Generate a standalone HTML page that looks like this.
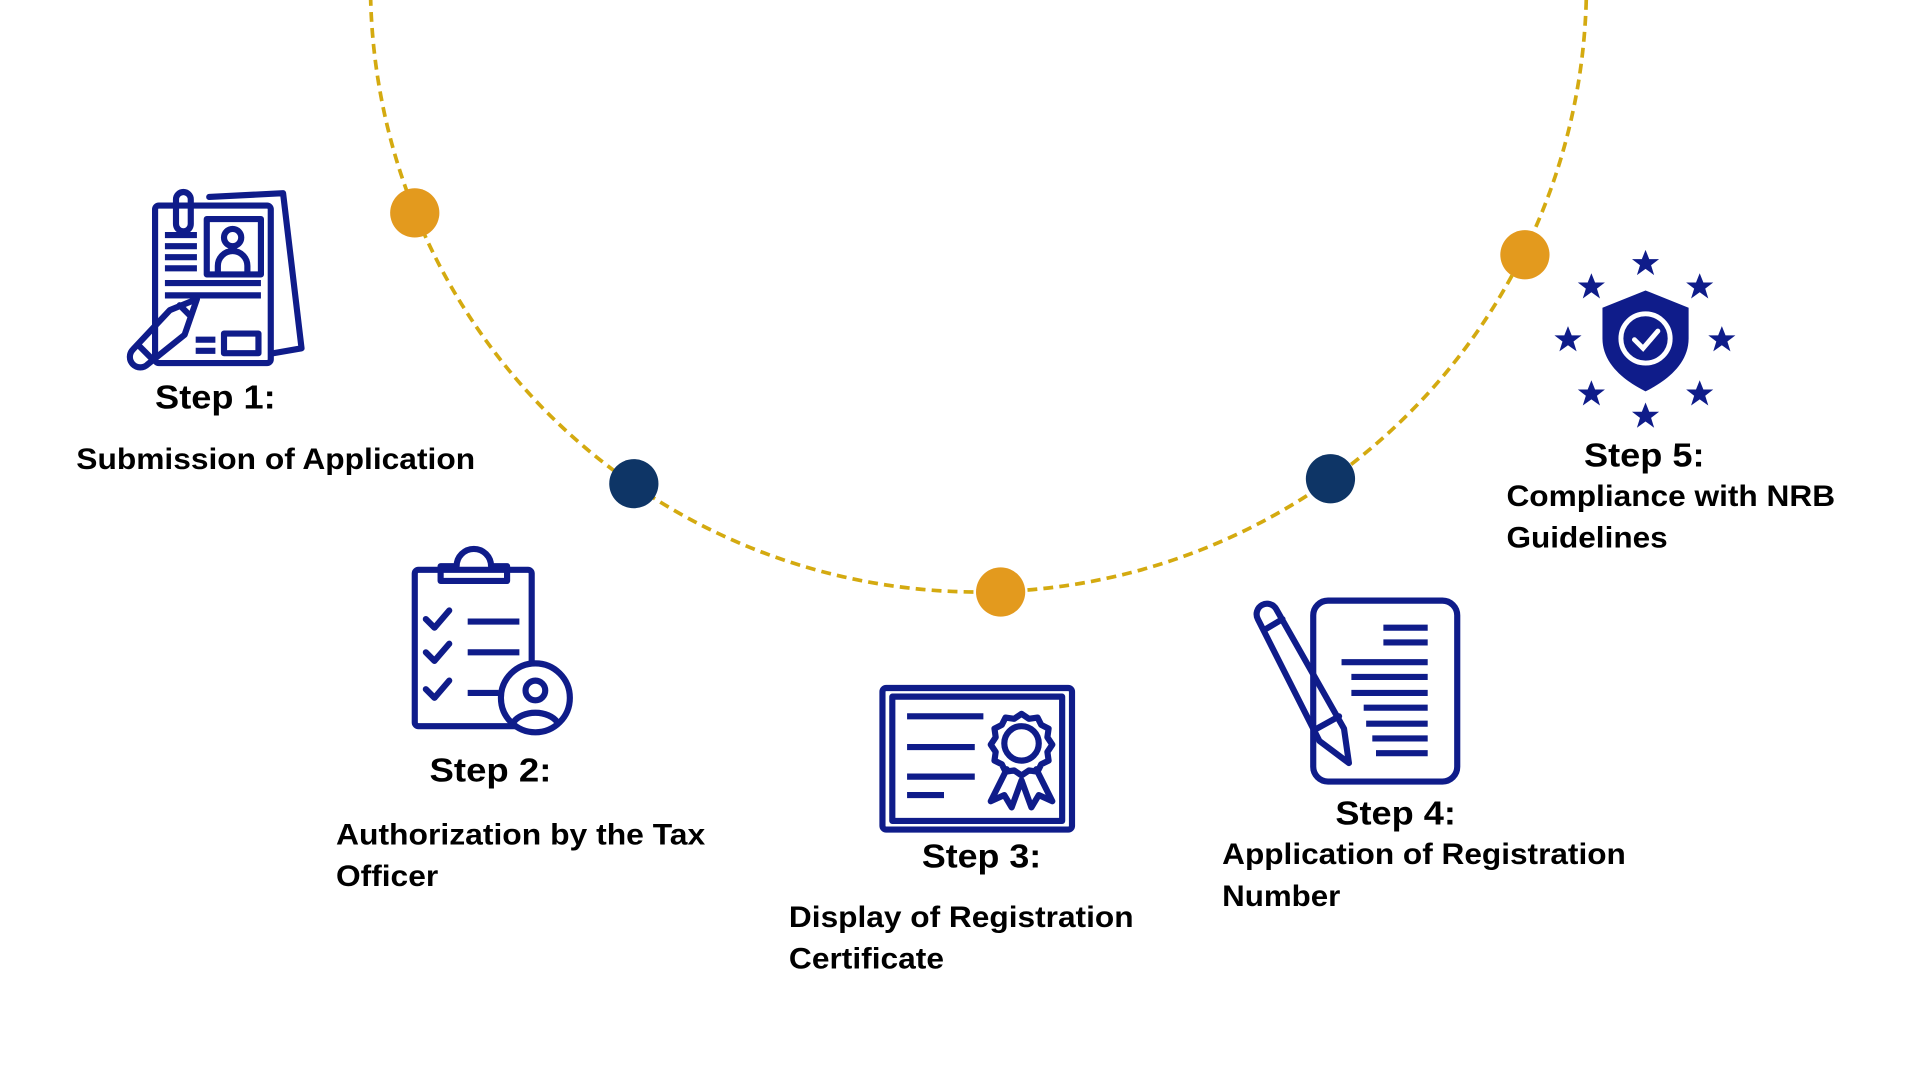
<!DOCTYPE html>
<html><head><meta charset="utf-8"><style>
html,body{margin:0;padding:0;background:#fff;}
svg{display:block}
text{font-family:"Liberation Sans",Arial,sans-serif;font-weight:bold;fill:#000}
</style></head><body>
<svg width="1920" height="1080" viewBox="0 0 1560 877.5" xmlns="http://www.w3.org/2000/svg">
<defs>
<path id="st" d="M0 -11 L3 -3.5 L11 -3.5 L4.5 1.5 L7 9.5 L0 4.5 L-7 9.5 L-4.5 1.5 L-11 -3.5 L-3 -3.5 Z"/>
</defs>
<rect width="1560" height="877.5" fill="#fff"/>
<circle cx="795" cy="-13" r="494" fill="none" stroke="#d4aa10" stroke-width="3" stroke-dasharray="8 5"/>
<circle cx="337" cy="173" r="20" fill="#e39a1e"/>
<circle cx="813" cy="481" r="20" fill="#e39a1e"/>
<circle cx="1239" cy="207" r="20" fill="#e39a1e"/>
<circle cx="515" cy="393" r="20" fill="#0e3566"/>
<circle cx="1081" cy="389" r="20" fill="#0e3566"/>

<g fill="none" stroke="#0f1c8a" stroke-width="5" stroke-linejoin="round" stroke-linecap="round">
<path d="M170 160 L230 157 L245 283 L222 287"/>
<rect x="126" y="167" width="94" height="128" rx="3"/>
<path d="M143 182 V162 a6 6 0 0 1 12 0 V182 a4 4 0 0 1 -12 0"/>
<rect x="168" y="178" width="44" height="45"/>
<circle cx="189" cy="193" r="7"/>
<path d="M177 221 v-5 a12 12 0 0 1 24 0 v5"/>
<path d="M134 191h26M134 200h26M134 209h26M134 218h26M134 230h78M134 240h78" stroke-linecap="butt"/>
<path d="M159 285h16M159 276h16" stroke-linecap="butt"/>
<rect x="182" y="271" width="28" height="16"/>
<path d="M160 243 L150 272 L120 296 a8 8 0 0 1 -12 -12 L138 252 Z M112 280 L123 291 M146 248 L155 257"/>
<rect x="337" y="463" width="95" height="127" rx="3"/>
<path d="M358 472 v-12 h13 a14 14 0 0 1 28 0 h13 v12 z"/>
<path d="M346 503l7 7 12-14M346 530l7 7 12-14M346 560l7 7 12-14"/>
<path d="M380 505h42M380 530h42M380 563h25" stroke-linecap="butt"/>
<circle cx="435" cy="567" r="28" fill="#fff"/>
<circle cx="435" cy="561" r="8"/>
<path d="M417 587 a20 14 0 0 1 36 0"/>
<rect x="717" y="559" width="154" height="115" rx="3"/>
<rect x="725" y="566" width="138" height="101"/>
<path d="M737 582h62M737 607h55M737 631h55M737 646h30" stroke-linecap="butt"/>
<circle cx="830" cy="604" r="14"/>
<path d="M830 580 l6 4 7-1 3 6 6 3 -1 7 4 6 -4 6 1 7 -6 3 -3 6 -7-1 -6 4 -6-4 -7 1 -3-6 -6-3 1-7 -4-6 4-6 -1-7 6-3 3-6 7 1z"/>
<path d="M818 625 L805 651 L816 646 L822 656 L830 634 L838 656 L844 646 L855 651 L842 625"/>
<rect x="1067" y="488" width="117" height="147" rx="12"/>
<path d="M1124 510h36M1124 522h36M1090 538h70M1098 550h62M1098 563h62M1108 575h52M1110 588h50M1115 600h45M1118 612h42" stroke-linecap="butt"/>
<path d="M1022 503 a8 8 0 0 1 15 -8 L1092 592 L1096 620 L1072 602 Z M1027 512 L1042 503 M1070 592 L1088 582"/>
</g>
<g fill="#0f1c8a">
<path d="M1337 236 L1372 250 V275 C1372 295 1355 309 1337 318 C1319 309 1302 295 1302 275 V250 Z"/>
<circle cx="1337" cy="275" r="20" fill="none" stroke="#fff" stroke-width="4"/>
<path d="M1328 276 l7 7 12-14" fill="none" stroke="#fff" stroke-width="4" stroke-linecap="round"/>
<use href="#st" x="1337" y="214"/>
<use href="#st" x="1337" y="338"/>
<use href="#st" x="1274" y="276"/>
<use href="#st" x="1399" y="276"/>
<use href="#st" x="1293" y="233"/>
<use href="#st" x="1381" y="233"/>
<use href="#st" x="1293" y="320"/>
<use href="#st" x="1381" y="320"/>
</g>

<g font-size="27" lengthAdjust="spacingAndGlyphs">
<text x="126" y="332" textLength="98" lengthAdjust="spacingAndGlyphs">Step 1:</text>
<text x="349" y="635" textLength="99" lengthAdjust="spacingAndGlyphs">Step 2:</text>
<text x="749" y="705" textLength="97" lengthAdjust="spacingAndGlyphs">Step 3:</text>
<text x="1085" y="670" textLength="98" lengthAdjust="spacingAndGlyphs">Step 4:</text>
<text x="1287" y="379" textLength="98" lengthAdjust="spacingAndGlyphs">Step 5:</text>
</g>
<g font-size="24">
<text x="62" y="381" textLength="324" lengthAdjust="spacingAndGlyphs">Submission of Application</text>
<text x="273" y="686" textLength="300" lengthAdjust="spacingAndGlyphs">Authorization by the Tax</text>
<text x="273" y="720" textLength="83" lengthAdjust="spacingAndGlyphs">Officer</text>
<text x="641" y="753" textLength="280" lengthAdjust="spacingAndGlyphs">Display of Registration</text>
<text x="641" y="787" textLength="126" lengthAdjust="spacingAndGlyphs">Certificate</text>
<text x="993" y="702" textLength="328" lengthAdjust="spacingAndGlyphs">Application of Registration</text>
<text x="993" y="736" textLength="96" lengthAdjust="spacingAndGlyphs">Number</text>
<text x="1224" y="411" textLength="267" lengthAdjust="spacingAndGlyphs">Compliance with NRB</text>
<text x="1224" y="445" textLength="131" lengthAdjust="spacingAndGlyphs">Guidelines</text>
</g>
</svg>
</body></html>
